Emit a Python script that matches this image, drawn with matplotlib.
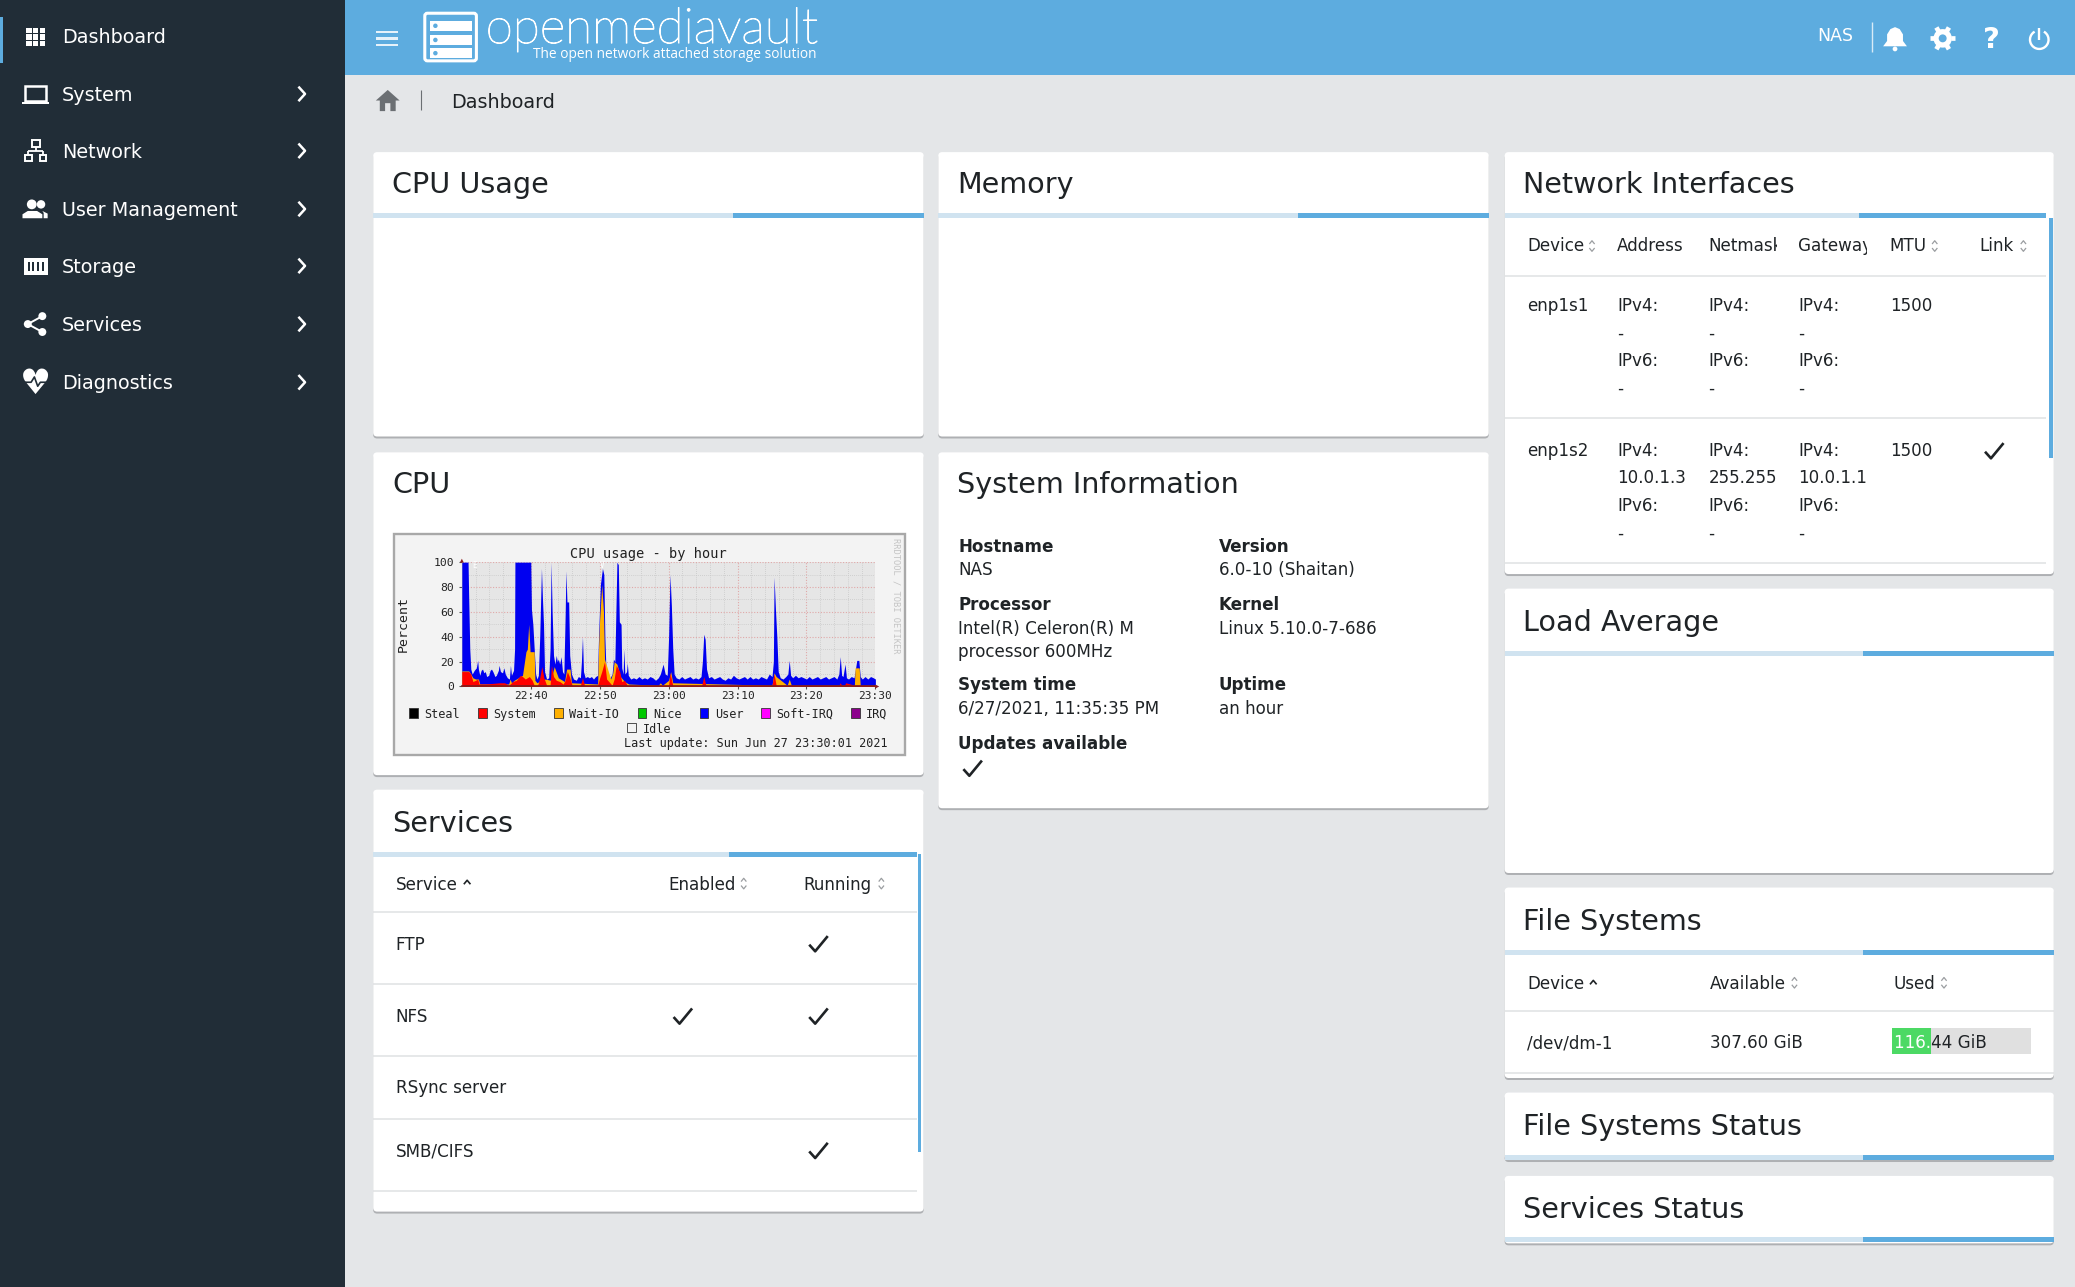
#! /usr/bin/env python
# -*- coding: utf-8 -*-

import numpy as np
import matplotlib
matplotlib.use('Agg')
import matplotlib.pyplot as plt
import matplotlib.patheffects as pe
from matplotlib.patches import FancyBboxPatch, Rectangle, Circle, Polygon, Arc

plt.rcParams['font.family'] = ['DejaVu Sans']

# CPU graph, minutes after 22:30, top of each stacked band in percent
user_t = [0, 0.9, 1.0, 1.15, 1.3, 1.5, 1.8, 2.1, 2.3, 2.4, 2.6, 2.8, 3.0, 3.2, 3.4, 3.6, 3.9, 4.1, 4.3, 4.5,
          4.8, 5.0, 5.3, 5.4, 5.6, 5.9, 6.1, 6.3, 6.6, 6.9, 7.05, 7.2, 7.5, 7.65, 7.7, 10.0, 10.1, 10.3, 10.5, 10.7,
          10.9, 11.1, 11.3, 11.55, 11.7, 11.85, 12.0, 12.3, 12.6, 12.8, 12.95, 13.1, 13.3, 13.5, 13.7, 13.85, 14.0, 14.2, 14.4, 14.6,
          14.8, 15.0, 15.1, 15.25, 15.5, 15.65, 15.9, 16.2, 16.6, 16.9, 17.2, 17.35, 17.5, 17.65, 17.9, 18.2, 18.5, 18.8, 19.1, 19.4,
          19.7, 19.8, 19.9, 20.1, 20.4, 20.6, 20.75, 20.9, 21.2, 21.5, 21.8, 22.0, 22.2, 22.35, 22.5, 22.7, 22.85, 23.1, 23.2, 23.4,
          23.5, 23.65, 23.9, 24.0, 24.15, 24.5, 24.9, 25.3, 25.7, 26.1, 26.5, 26.9, 27.3, 27.7, 28.1, 28.5, 28.8, 29.0, 29.2, 29.5,
          29.8, 30.0, 30.2, 30.4, 30.6, 30.8, 31.1, 31.5, 31.9, 32.3, 32.7, 33.1, 33.5, 33.9, 34.3, 34.7, 34.9, 35.1, 35.3, 35.5,
          35.8, 36.2, 36.6, 37.0, 37.4, 37.8, 38.2, 38.6, 39.0, 39.4, 39.8, 40.2, 40.6, 41.0, 41.4, 41.8, 42.2, 42.6, 43.0, 43.4,
          43.8, 44.2, 44.6, 45.0, 45.2, 45.3, 45.5, 45.7, 45.9, 46.2, 46.6, 47.0, 47.3, 47.5, 47.7, 48.0, 48.4, 48.8, 49.2, 49.6,
          50.0, 50.4, 50.8, 51.2, 51.6, 52.0, 52.4, 52.8, 53.2, 53.6, 54.0, 54.4, 54.7, 54.9, 55.1, 55.3, 55.6, 55.8, 56.1, 56.5,
          56.9, 57.05, 57.3, 57.6, 57.8, 58.1, 58.5, 58.9, 59.3, 59.7, 60.0]
user_top = [100, 100, 70, 30, 14, 10, 13, 15, 21, 14, 9, 13, 14, 11, 12, 8, 9, 13, 14, 12,
            8, 9, 13, 17, 12, 11, 15, 10, 7, 6, 17, 9, 13, 30, 100, 100, 62, 50, 30, 10,
            6, 9, 40, 95, 70, 50, 12, 6, 7, 30, 100, 60, 25, 18, 25, 20, 22, 18, 24, 12,
            10, 60, 93, 68, 68, 25, 10, 6, 5, 8, 7, 20, 40, 12, 7, 8, 7, 8, 6, 8,
            9, 33, 50, 82, 95, 90, 40, 15, 8, 7, 10, 22, 20, 60, 100, 98, 52, 50, 15, 10,
            30, 10, 12, 19, 9, 6, 7, 6, 8, 6, 7, 6, 8, 7, 5, 7, 10, 14, 18, 10,
            9, 40, 90, 65, 30, 10, 7, 6, 8, 6, 7, 8, 6, 7, 6, 8, 20, 42, 38, 14,
            7, 8, 6, 7, 8, 6, 5, 7, 6, 9, 7, 6, 7, 8, 6, 8, 6, 7, 6, 8,
            7, 6, 10, 8, 20, 88, 62, 40, 12, 7, 6, 8, 10, 21, 9, 7, 9, 7, 8, 7,
            6, 8, 6, 7, 8, 6, 7, 8, 6, 7, 8, 6, 10, 24, 9, 8, 18, 7, 6, 8,
            7, 12, 21, 21, 8, 6, 8, 6, 8, 7, 6]

wait_t = [0, 1.0, 1.3, 1.6, 2.0, 2.4, 2.6, 6.8, 7.0, 7.2, 7.6, 8.8, 9.3, 9.5, 9.7, 9.9, 10.5, 10.6, 10.9, 11.5,
          12.1, 12.9, 13.4, 14.0, 14.6, 14.9, 15.2, 15.7, 15.9, 19.7, 19.85, 20.0, 20.3, 20.55, 20.7, 21.6, 21.9, 22.1, 22.5, 23.0,
          23.6, 24.2, 28.5, 28.8, 29.1, 30.0, 30.3, 30.6, 45.0, 45.3, 45.6, 47.2, 47.5, 47.8, 56.95, 57.05, 57.65, 57.8, 60.0]
wait_top = [12.5, 12.5, 10, 7, 6, 6, 2, 2, 6, 3, 5, 9, 28, 30, 50, 28, 28, 5, 3, 5,
            6, 5, 16, 7, 5, 4, 14, 14, 3, 2, 33, 55, 82, 60, 22, 6, 11, 20, 18, 8,
            4, 2, 1, 3, 1, 5, 12, 3, 1, 11, 8, 1, 6, 1, 1, 15, 15, 1, 1]

system_t = [0, 1.0, 1.3, 1.6, 2.0, 2.3, 2.5, 3.5, 5.5, 6.2, 6.8, 7.4, 7.9, 8.5, 8.8, 9.2, 9.8, 10.2, 10.5, 11.0,
            11.3, 11.6, 11.9, 12.3, 12.8, 13.0, 13.3, 13.7, 14.2, 14.7, 15.0, 15.3, 15.6, 16.0, 17.2, 17.5, 17.8, 19.7, 20.0, 20.3,
            20.7, 21.0, 21.8, 22.1, 22.4, 22.9, 23.2, 23.6, 24.0, 30.0, 30.2, 30.6, 34.8, 35.1, 35.4, 45.0, 45.3, 45.6, 54.7, 54.9, 55.1,
            55.5, 55.7, 57.0, 57.8, 60.0]
system_top = [12, 12, 10, 4, 5, 6, 2, 2, 3, 3, 1, 4, 5, 9, 8, 6, 8, 5, 1, 1,
              7, 16, 7, 1, 1, 17, 8, 5, 4, 2, 5, 12, 8, 1, 1, 7, 1, 1, 7, 12,
              20, 6, 1, 6, 17, 12, 4, 5, 1, 1, 11, 1, 1, 8, 1, 1, 10, 1, 1, 3, 1,
              1, 3, 1, 1, 1]

xtick_minutes = [10, 20, 30, 40, 50, 60]
xtick_labels = ['22:40', '22:50', '23:00', '23:10', '23:20', '23:30']
ytick_values = [0, 20, 40, 60, 80, 100]

legend_names = ['Steal', 'System', 'Wait-IO', 'Nice', 'User', 'Soft-IRQ', 'IRQ', 'Idle']
legend_colors = ['#000000', '#ff0000', '#ffb000', '#00c800', '#0000ff', '#ff00ff', '#8c008c', '#f3f3f3']

menu_names = ['Dashboard', 'System', 'Network', 'User Management', 'Storage', 'Services', 'Diagnostics']
service_names = ['FTP', 'NFS', 'RSync server', 'SMB/CIFS']
service_enabled = [False, True, False, False]
service_running = [True, True, False, True]

TEXT = '#1f2326'
BLUE = '#5dacdf'
PALE = '#d0e3f0'
DARK = '#212d37'
LINE = '#dfe1e3'
BODY = 12.1

fig = plt.figure(figsize=(20.75, 12.87), dpi=100)
fig.patch.set_facecolor('#e4e6e8')
ax = fig.add_axes([0, 0, 1, 1])
ax.set_xlim(0, 1568)
ax.set_ylim(973, 0)
ax.axis('off')


def rect(x0, y0, x1, y1, color, z=2):
    ax.add_patch(Rectangle((x0, y0), x1 - x0, y1 - y0, fc=color, ec='none', zorder=z))


def txt(x, y, s, size=BODY, color=TEXT, weight='normal', ha='left', clip=None, z=5, **kw):
    t = ax.text(x, y + 1.2, s, fontsize=size, color=color, fontweight=weight, ha=ha, va='center', zorder=z, **kw)
    if clip is not None:
        t.set_clip_path(Rectangle((clip[0], clip[1]), clip[2] - clip[0], clip[3] - clip[1], transform=ax.transData))
        t.set_clip_on(True)
    return t


def line(xs, ys, color=TEXT, lw=1.0, z=4):
    ax.plot(xs, ys, color=color, lw=lw, zorder=z, solid_capstyle='butt')


def check(x, y):
    line([x - 7, x - 2.5, x + 7], [y + 0.5, y + 5.5, y - 6], TEXT, 1.9)


def sort_icon(x, y):
    line([x - 2, x, x + 2], [y - 1.5, y - 4, y - 1.5], '#9a9da0', 0.9)
    line([x - 2, x, x + 2], [y + 1.5, y + 4, y + 1.5], '#9a9da0', 0.9)


def caret(x, y):
    line([x - 2.5, x, x + 2.5], [y + 1.5, y - 1.5, y + 1.5], TEXT, 1.2)


def card(x0, y0, x1, y1, title, bar_y=None, split=None, bar_end=None, title_dy=0, title_x=14.5):
    ax.add_patch(FancyBboxPatch((x0, y0 + 1.5), x1 - x0, y1 - y0, boxstyle='round,pad=0,rounding_size=3',
                                fc='#aeb0b3', ec='none', zorder=1))
    ax.add_patch(FancyBboxPatch((x0, y0), x1 - x0, y1 - y0, boxstyle='round,pad=0,rounding_size=3',
                                fc='white', ec='none', zorder=1.5))
    txt(x0 + title_x, y0 + 23.5 + title_dy, title, size=20.6)
    if bar_y is not None:
        end = bar_end if bar_end else x1
        rect(x0, bar_y - 2, split, bar_y + 2, PALE)
        rect(split, bar_y - 2, end, bar_y + 2, BLUE)


# page frame
rect(0, 0, 261, 973, DARK, 1)
rect(261, 0, 1568, 56.5, BLUE, 1)
rect(0, 13, 2, 48, BLUE, 3)

# side menu
menu_y = [27, 71, 114, 158, 201, 245, 289]
for i in range(len(menu_names)):
    txt(47, menu_y[i], menu_names[i], size=13.8, color='white')
    if i > 0:
        line([225.5, 230.5, 225.5], [menu_y[i] - 5.5, menu_y[i], menu_y[i] + 5.5], 'white', 1.8)
for gx in [20, 25, 30]:
    for gy in [21, 26, 31]:
        rect(gx, gy, gx + 4, gy + 4, 'white', 4)
# laptop
ax.add_patch(Rectangle((19, 65), 16, 11, fc='none', ec='white', lw=1.8, zorder=4))
rect(17, 77, 37, 79, 'white', 4)
# network
ax.add_patch(Rectangle((24, 106), 6, 5, fc='none', ec='white', lw=1.4, zorder=4))
ax.add_patch(Rectangle((19, 117), 5, 5, fc='none', ec='white', lw=1.4, zorder=4))
ax.add_patch(Rectangle((30, 117), 5, 5, fc='none', ec='white', lw=1.4, zorder=4))
line([27, 27], [111, 114], 'white', 1.3)
line([21.5, 32.5], [114, 114], 'white', 1.3)
line([21.5, 21.5], [114, 117], 'white', 1.3)
line([32.5, 32.5], [114, 117], 'white', 1.3)
# users
ax.add_patch(Circle((24, 154.5), 3.7, fc='white', ec='none', zorder=4))
ax.add_patch(Circle((31, 154.5), 3.2, fc='white', ec='none', zorder=4))
ax.add_patch(Polygon([(17, 165), (17, 162), (21, 159.5), (28, 159.5), (32, 162), (32, 165)], fc='white', ec='none', zorder=4))
ax.add_patch(Polygon([(32, 159.5), (36, 161.5), (36, 165), (33, 165), (33, 161)], fc='white', ec='none', zorder=4))
# storage
rect(18, 195, 36, 208, 'white', 4)
for sx in [21, 24.5, 28, 31.5]:
    rect(sx, 198, sx + 1.5, 205, DARK, 5)
# share
for cx, cy in [(32, 239), (21, 245), (32, 251)]:
    ax.add_patch(Circle((cx, cy), 3, fc='white', ec='none', zorder=4))
line([32, 21, 32], [239, 245, 251], 'white', 1.4)
# heart
txt(27, 289, '\u2665', size=25, color='white', ha='center')
line([18, 23.5, 26, 28.5, 30.5, 36], [289, 289, 285, 292, 289, 289], DARK, 1.2, 6)

# top bar
for hy in [24, 29, 34]:
    rect(284.5, hy - 0.9, 301, hy + 0.9, '#e6f2fa', 4)
ax.add_patch(FancyBboxPatch((321, 10), 39, 36, boxstyle='round,pad=0,rounding_size=2', fc='none', ec='white', lw=2.2, zorder=4))
for ly in [15.5, 26.2, 36.2]:
    rect(325, ly, 357, ly + 8, 'white', 4)
    ax.add_patch(Circle((329, ly + 4), 1.7, fc=BLUE, ec='none', zorder=5))
logo = txt(367, 21, 'openmediavault', size=35.6, color='white', family='Lato', weight='light')
logo.set_path_effects([pe.withStroke(linewidth=0.7, foreground='white')])
txt(403, 40, 'The open network attached storage solution', size=9.9, color='white', family='Open Sans')
txt(1373, 26, 'NAS', size=12.5, color='white')
line([1414.5, 1414.5], [17, 39], '#d8ebf7', 1)
ax.add_patch(Polygon([(1423, 35), (1426, 31), (1426, 26), (1428.5, 22), (1432, 20.5), (1435.5, 22), (1438, 26), (1438, 31), (1441, 35)],
                     fc='white', ec='none', zorder=4))
ax.add_patch(Circle((1432, 37), 1.8, fc='white', ec='none', zorder=4))
ax.add_patch(Circle((1468, 29), 7, fc='white', ec='none', zorder=4))
for a in np.deg2rad([0, 60, 120, 180, 240, 300]):
    line([1468 + 6 * np.cos(a), 1468 + 9.5 * np.cos(a)], [29 + 6 * np.sin(a), 29 + 9.5 * np.sin(a)], 'white', 3.4)
ax.add_patch(Circle((1468, 29), 3, fc=BLUE, ec='none', zorder=5))
txt(1504.5, 29, '?', size=21, color='white', weight='bold', ha='center')
ax.add_patch(Arc((1541, 30), 14, 14, theta1=-60, theta2=240, ec='white', lw=1.7, zorder=4))
line([1541, 1541], [21, 30], 'white', 1.7)

# breadcrumb
ax.add_patch(Polygon([(284, 76), (293, 68), (302, 76), (299, 76), (299, 84), (295, 84), (295, 78), (291, 78), (291, 84), (287, 84), (287, 76)],
                     fc='#6b6f73', ec='none', zorder=4))
line([318.5, 318.5], [68, 83], '#6b6f73', 0.8)
txt(341, 76, 'Dashboard', size=13.8)

# cards
card(282, 115, 698, 330, 'CPU Usage', 163, 554)
card(709, 115, 1125, 330, 'Memory', 163, 981)
card(282, 342, 698, 586, 'CPU')
card(709, 342, 1125, 611, 'System Information')
card(282, 597, 698, 916, 'Services', 646, 551, 693, title_dy=1)
card(1137, 115, 1552, 434, 'Network Interfaces', 163, 1405, 1546, title_x=13.8)
card(1137, 445, 1552, 660, 'Load Average', 494, 1408, title_dy=1.5, title_x=13.8)
card(1137, 671, 1552, 815, 'File Systems', 720, 1408, title_dy=1.5, title_x=13.8)
card(1137, 826, 1552, 877, 'File Systems Status', 875, 1408, title_dy=1.5, title_x=13.8)
card(1137, 889, 1552, 940, 'Services Status', 937, 1408, title_dy=1, title_x=13.8)

# system information
info_left = [(412, 'Hostname', True), (430, 'NAS', False), (456, 'Processor', True), (474, 'Intel(R) Celeron(R) M', False),
             (492, 'processor 600MHz', False), (517, 'System time', True), (535, '6/27/2021, 11:35:35 PM', False),
             (561, 'Updates available', True)]
info_right = [(412, 'Version', True), (430, '6.0-10 (Shaitan)', False), (456, 'Kernel', True), (474, 'Linux 5.10.0-7-686', False),
              (517, 'Uptime', True), (535, 'an hour', False)]
for y, s, bold in info_left:
    txt(724, y, s, weight='bold' if bold else 'normal')
for y, s, bold in info_right:
    txt(921, y, s, weight='bold' if bold else 'normal')
check(735, 581)

# services table
txt(299, 667.7, 'Service')
caret(353, 667)
txt(505, 667.7, 'Enabled')
sort_icon(562, 668)
txt(607, 667.7, 'Running')
sort_icon(666, 668)
for y in [689.5, 744, 798, 846, 900.5]:
    line([282, 693], [y, y], LINE, 1.1)
service_y = [713, 767.7, 821.7, 869.3]
for i in range(len(service_names)):
    txt(299, service_y[i], service_names[i])
    if service_enabled[i]:
        check(516, service_y[i] + 0.7)
    if service_running[i]:
        check(618.5, service_y[i] + 0.7)
rect(693.5, 646, 696, 871, BLUE, 3)

# network table
headers = [(1154, 'Device'), (1222, 'Address'), (1291, 'Netmask'), (1359, 'Gateway'), (1428, 'MTU'), (1496, 'Link')]
for hx, s in headers:
    txt(hx, 185, s, clip=(hx, 170, hx + 52, 200))
for sx in [1203, 1462, 1529]:
    sort_icon(sx, 186)
for y in [208.5, 316, 425.5]:
    line([1137, 1546], [y, y], LINE, 1.1)
txt(1154, 230, 'enp1s1')
txt(1154, 340, 'enp1s2')
txt(1428, 230, '1500')
txt(1428, 340, '1500')
check(1507, 341)
row_one = [(230, 'IPv4:'), (251, '-'), (272, 'IPv6:'), (293, '-')]
for cx in [1222, 1291, 1359]:
    for y, s in row_one:
        txt(cx, y, s)
row_two = [(1222, '10.0.1.3'), (1291, '255.255'), (1359, '10.0.1.1')]
for cx, addr in row_two:
    txt(cx, 340, 'IPv4:')
    txt(cx, 360.5, addr, clip=(cx, 350, cx + 52.5, 372))
    txt(cx, 381, 'IPv6:')
    txt(cx, 402, '-')
rect(1548.5, 165, 1551, 346, BLUE, 3)

# file systems table
txt(1154, 742.7, 'Device')
caret(1204, 742.7)
txt(1292, 742.7, 'Available')
sort_icon(1356, 743)
txt(1431, 742.7, 'Used')
sort_icon(1469, 743)
for y in [764.5, 811]:
    line([1137, 1552], [y, y], LINE, 1.1)
txt(1154, 787.7, '/dev/dm-1')
txt(1292, 787.7, '307.60 GiB')
rect(1430, 777, 1535, 797, '#e0e0e0', 3)
rect(1430, 777, 1459.5, 797, '#4cd964', 3.5)
txt(1431, 787.7, '116.44 GiB', clip=(1459.5, 770, 1535, 804))
txt(1431, 787.7, '116.44 GiB', color='white', clip=(1430, 770, 1459.5, 804))

# CPU graph picture
rect(297.5, 403.5, 684, 571, '#f3f3f3', 3)
ax.add_patch(Rectangle((297.5, 403.5), 386.5, 167.5, fc='none', ec='#a8a8a8', lw=1.7, zorder=3.5))
txt(490, 417.5, 'CPU usage - by hour', size=9.8, color='#222222', family='DejaVu Sans Mono', ha='center')
txt(305, 470.5, 'Percent', size=9.5, color='#222222', family='DejaVu Sans Mono', ha='center', rotation=90)
txt(677, 449, 'RRDTOOL / TOBI OETIKER', size=6.3, color='#c4c4c4', family='DejaVu Sans Mono', ha='center', rotation=270)

W, H = 1568.0, 973.0
gx0, gx1, gy0, gy1 = 349.0, 661.5, 425.0, 519.0
gax = fig.add_axes([gx0 / W, 1 - gy1 / H, (gx1 - gx0) / W, (gy1 - gy0) / H], zorder=2)
gax.set_facecolor('#e6e6e6')
gax.set_xlim(0, 60)
gax.set_ylim(0, 100)
gax.fill_between(user_t, 0, user_top, color='#0000f0', lw=0, zorder=3)
gax.fill_between(wait_t, 0, wait_top, color='#ffb000', lw=0, zorder=4)
gax.fill_between(system_t, 0, system_top, color='#ff0000', lw=0, zorder=5)
gax.set_xticks(xtick_minutes, xtick_labels, family='DejaVu Sans Mono', fontsize=8, color='#222222')
gax.set_yticks(ytick_values, [str(v) for v in ytick_values], family='DejaVu Sans Mono', fontsize=8.2, color='#222222')
gax.set_xticks(np.arange(0, 61, 2), minor=True)
gax.set_yticks(np.arange(0, 101, 10), minor=True)
gax.tick_params(axis='x', which='major', length=2, width=0.8, color='#555555', pad=1)
gax.tick_params(axis='y', which='major', length=2, width=0.8, color='#555555', pad=3.5)
gax.tick_params(axis='both', which='minor', length=0)
gax.grid(True, which='minor', color='#c8c8c8', lw=0.6, ls=(0, (1, 1.5)), zorder=1)
gax.grid(True, which='major', color='#e0a8a8', lw=0.8, ls=(0, (1, 1.5)), zorder=2)
gax.set_axisbelow(True)
for s in ['top', 'right']:
    gax.spines[s].set_visible(False)
gax.spines['left'].set_color('#b8b8b8')
gax.spines['bottom'].set_color('#7a1f1f')
gax.spines['bottom'].set_linewidth(1.2)
gax.spines['bottom'].set_zorder(6)
gax.text(1.9, 97.5, 'E', color='white', fontsize=5.5, ha='center', va='center', zorder=6, family='DejaVu Sans Mono')
gax.text(20.4, 97.5, 'V', color='white', fontsize=5.5, ha='center', va='center', zorder=6, family='DejaVu Sans Mono')
gax.annotate('', xy=(1.016, 0), xytext=(1.0, 0), xycoords='axes fraction', arrowprops=dict(arrowstyle='-|>', color='#8b2020', lw=0, mutation_scale=7))
gax.annotate('', xy=(0, 1.05), xytext=(0, 1.0), xycoords='axes fraction', arrowprops=dict(arrowstyle='-|>', color='#8b2020', lw=0, mutation_scale=7))

leg_x = [309, 361.4, 418.6, 482, 528.7, 575.3, 643, 474]
leg_y = [539, 539, 539, 539, 539, 539, 539, 550]
for i in range(len(legend_names)):
    ax.add_patch(Rectangle((leg_x[i], leg_y[i] - 3.5), 6.5, 7, fc=legend_colors[i], ec='#333333', lw=0.6, zorder=4))
    txt(leg_x[i] + 11.5, leg_y[i], legend_names[i], size=8.5, color='#222222', family='DejaVu Sans Mono')
txt(671, 561, 'Last update: Sun Jun 27 23:30:01 2021', size=8.5, color='#222222', family='DejaVu Sans Mono', ha='right')

fig.savefig('out.png', dpi=100, facecolor=fig.get_facecolor())
